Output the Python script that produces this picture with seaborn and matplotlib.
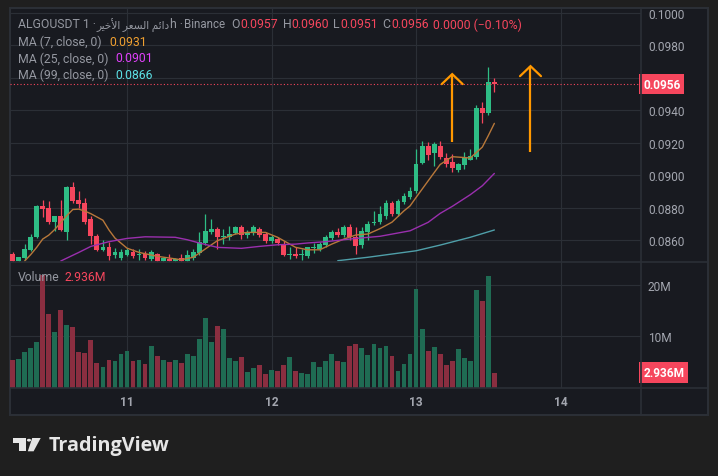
import matplotlib
matplotlib.use("Agg")
import matplotlib.pyplot as plt
import matplotlib.transforms as mtransforms
from matplotlib.patches import Rectangle, Polygon, Circle
from matplotlib.lines import Line2D
import numpy as np
import pandas as pd
import seaborn as sns

# ---------------- data (1h candles, 10th 05:00 -> 13th 13:00) ----------------
opens = [.08514, .08471, .08491, .0854, .0862, .08811, .08797, .08713, .0875, .08651,
         .08928, .08846, .0883, .08729, .08625, .08538, .08556, .08508, .08487, .08508,
         .08528, .08508, .08514, .08483, .08512, .08471, .08483, .08471, .08487, .08471,
         .08487, .0852, .08582, .08651, .08668, .08617, .08617, .08643, .08682, .08633,
         .08643, .08668, .08637, .08596, .08606, .08575, .08508, .08514, .08508, .08503,
         .08549, .08545, .0857, .0861, .08651, .08631, .08678, .0862, .08569, .08647,
         .08702, .08711, .08746, .08828, .08758, .08835, .08866, .08903, .09074, .0918,
         .09135, .09177, .09107, .09078, .09031, .09062, .09094, .09113, .09412, .09383,
         .0957]
highs = [.08526, .08495, .08574, .08637, .08817, .08846, .0884, .0875, .08846, .0893,
         .08959, .08903, .08857, .0875, .0864, .0860, .0859, .0855, .08545, .08549,
         .08545, .08545, .08534, .08538, .0852, .0849, .08514, .0849, .08514, .08538,
         .08545, .08647, .0876, .08729, .0868, .08668, .08688, .08688, .08692, .0866,
         .08692, .0868, .0865, .0863, .08617, .08596, .08557, .08557, .08545, .0856,
         .0858, .0859, .0863, .0866, .08672, .0869, .08698, .08678, .08678, .08719,
         .0878, .08807, .08848, .0884, .0885, .0889, .08924, .0916, .09207, .09201,
         .09201, .09207, .09135, .09129, .09074, .0914, .0916, .09431, .09451, .09664,
         .0960]
lows = [.0846, .0846, .0848, .0853, .0861, .0874, .0870, .08657, .08657, .08602,
        .0883, .0880, .0870, .08575, .0853, .0853, .0848, .0849, .0848, .0850,
        .0849, .0848, .0848, .0847, .0846, .0846, .0846, .0846, .0846, .0846,
        .0848, .0851, .0857, .0864, .08545, .08575, .0860, .0864, .08606, .0861,
        .0863, .0862, .0858, .0858, .0857, .085, .08483, .0849, .0848, .0849,
        .0852, .0853, .0856, .0860, .0862, .0862, .0860, .08514, .08549, .0860,
        .0869, .0870, .0873, .08746, .0875, .0882, .0885, .0889, .0907, .09094,
        .09057, .0910, .0905, .0902, .0902, .09037, .0909, .0910, .09321, .0937,
        .0951]
closes = [.08471, .08495, .08545, .08617, .08811, .08791, .08713, .0875, .08662, .08928,
          .08842, .08822, .08713, .08627, .08538, .08559, .085, .08526, .08528, .08538,
          .08503, .08514, .08491, .08524, .08471, .08487, .08471, .08483, .08471, .08508,
          .08528, .0859, .08657, .08668, .08617, .08627, .08637, .08682, .08633, .08651,
          .08682, .08633, .08596, .08617, .08582, .08508, .08514, .08503, .08514, .08555,
          .08555, .08575, .08617, .08651, .08631, .08678, .08617, .08565, .08657, .08698,
          .08708, .0876, .08828, .0876, .08838, .08873, .08903, .09068, .0918, .09123,
          .09193, .09113, .09071, .09041, .09068, .09111, .09119, .09412, .09382, .09571,
          .0956]
volumes_m = [5.46, 5.65, 7.02, 7.8, 8.97, 21.96, 14.4, 10.9, 15.2, 12.3,
             11.9, 7.02, 6.8, 9.36, 4.87, 4.09, 5.46, 5.26, 6.63, 7.21,
             5.26, 5.46, 4.68, 8.19, 6.24, 5.46, 5.07, 5.46, 4.87, 6.63,
             6.24, 9.55, 13.65, 8.97, 12.1, 11.5, 5.85, 5.26, 6.04, 3.12,
             3.9, 4.48, 2.73, 3.51, 3.31, 4.48, 6.04, 3.31, 2.92, 2.73,
             5.07, 4.09, 5.26, 6.63, 5.26, 5.07, 8.19, 8.58, 7.8, 6.43,
             8.58, 7.8, 8.19, 6.24, 3.31, 4.68, 6.63, 19.3, 11.5, 7.21,
             7.99, 6.63, 4.48, 5.26, 7.6, 5.85, 5.26, 19.1, 16.96, 21.8,
             2.936]

ma7_idx = [2, 3, 4, 5, 6, 7, 9, 10, 11, 12, 13, 15, 16, 17, 19, 21, 24, 28, 30, 32, 34, 37, 39,
           42, 44, 47, 49, 51, 53, 55, 57, 59, 61, 63, 65, 66, 67, 69, 71, 73, 76, 78, 79, 80]
ma7_val = [.08471, .0851, .08555, .08606, .0863, .08665, .0875, .08788, .0879, .08778, .08762,
           .08722, .08662, .08612, .0855, .08524, .085, .08479, .08494, .08545, .08596, .08637,
           .08647, .08647, .08617, .08555, .0854, .0854, .08575, .08606, .08631, .08637, .0867,
           .0871, .0878, .0881, .08862, .08964, .09065, .09113, .09105, .09172, .09243, .09318]
ma25_idx = [8, 11, 13, 16, 19, 22, 27, 29, 31, 34, 38, 41, 44, 47, 49, 52, 55, 57, 61, 66,
            69, 71, 73, 76, 78, 80]
ma25_val = [.08471, .08524, .08561, .0859, .0861, .0862, .08617, .08602, .08582, .08555,
            .08549, .08561, .08571, .08575, .08582, .0859, .08602, .0861, .08623, .08657,
            .08709, .08764, .08807, .08879, .08934, .0901]
ma99_idx = [54, 59, 63, 67, 71, 76, 80]
ma99_val = [.08473, .08494, .08514, .08534, .08569, .08617, .08662]

day_idx = [19, 43, 67, 91]
day_labels = ["11", "12", "13", "14"]
price_ticks = [0.0860, 0.0880, 0.0900, 0.0920, 0.0940, 0.0960, 0.0980, 0.1000]
vol_ticks = [10, 20]
vol_tick_labels = ["10M", "20M"]

arrow_idx = [73, 86]
arrow_low = [0.09205, 0.09142]
arrow_high = [0.09621, 0.09670]

last_price = 0.0956
last_volume = 2.936

# ---------------- style ----------------
W, H = 718, 477
OUTER = "#1f1f1f"
BG = "#181a20"
GRID = "#2b2f36"
UP = "#2ebd85"
DOWN = "#f6465d"
VUP = "#1f6b53"
VDOWN = "#8a2e40"
TXT = "#9598a1"
AXT = "#a3a6af"
FONT = ["Roboto", "DejaVu Sans"]

sns.set_theme(style="dark")
plt.rcParams["font.family"] = FONT
plt.rcParams["axes.unicode_minus"] = False

fig = plt.figure(figsize=(W / 100, H / 100), dpi=100, facecolor=OUTER)


def rect(l, t, r, b):
    return [l / W, 1 - b / H, (r - l) / W, (b - t) / H]


L, R, T, PB, VB, TB, RR = 10, 640.7, 9.3, 262.5, 388.7, 416, 707.7

fig.add_artist(Rectangle((L / W, 1 - TB / H), (RR - L) / W, (TB - T) / H,
                         transform=fig.transFigure, fc=BG, ec=GRID, lw=1.5, zorder=-5))

ax_p = fig.add_axes(rect(L, T, R, PB))
ax_v = fig.add_axes(rect(L, PB, R, VB), sharex=ax_p)
for ax in (ax_p, ax_v):
    ax.set_facecolor("none")
    for s in ax.spines.values():
        s.set_visible(False)
    ax.grid(True, color=GRID, lw=0.8)
    ax.set_axisbelow(True)

idx = np.arange(len(opens))
o = np.array(opens); h = np.array(highs); lo = np.array(lows); c = np.array(closes)
up = c >= o
ccol = np.where(up, UP, DOWN)
vcol = np.where(up, VUP, VDOWN)

# candles
ax_p.vlines(idx, lo, h, colors=ccol, lw=0.9, zorder=3)
body = np.maximum(np.abs(c - o), 0.000018)
ax_p.bar(idx, body, bottom=np.minimum(o, c), width=0.8, color=ccol, lw=0, zorder=4)

# moving averages
sns.lineplot(x=ma7_idx, y=ma7_val, ax=ax_p, color="#b8783a", lw=1.0, sort=False, zorder=5)
sns.lineplot(x=ma25_idx, y=ma25_val, ax=ax_p, color="#9a2fae", lw=1.0, sort=False, zorder=5)
sns.lineplot(x=ma99_idx, y=ma99_val, ax=ax_p, color="#4f9fa9", lw=1.0, sort=False, zorder=5)

ax_p.set_xlim(-0.43, 104.3)
ax_p.set_ylim(0.08468, 0.10026)

# last price dotted line
ax_p.axhline(last_price, color=DOWN, lw=0.8, ls=(0, (1, 2)), zorder=6)

# arrows
xspan = 104.73 / (R - L)
yspan = (0.10026 - 0.08468) / (PB - T)
for ai, alo, ahi in zip(arrow_idx, arrow_low, arrow_high):
    ax_p.plot([ai, ai], [alo, ahi], color="#ff9800", lw=1.6, zorder=7, solid_capstyle="butt")
    ax_p.plot([ai - 10.5 * xspan, ai, ai + 10.5 * xspan],
              [ahi - 10 * yspan, ahi, ahi - 10 * yspan],
              color="#ff9800", lw=1.6, zorder=7, solid_joinstyle="miter")

# price axis
ax_p.yaxis.tick_right()
ax_p.set_yticks(price_ticks)
ax_p.set_yticklabels([f"{v:.4f}" for v in price_ticks])
ax_p.set_xticks(day_idx)
ax_p.tick_params(axis="y", length=0, pad=5.2, labelsize=8.6, labelcolor=AXT)
ax_p.tick_params(axis="x", length=0, labelbottom=False)
ax_p.set_xlabel(""); ax_p.set_ylabel("")

blend_p = mtransforms.blended_transform_factory(ax_p.transAxes, ax_p.transData)
ax_p.text(1.0 + 2.5 / (R - L), last_price, f"{last_price:.4f}", transform=blend_p,
          ha="left", va="center", color="white", fontsize=8.6, fontweight="bold",
          bbox=dict(boxstyle="square,pad=0.32", fc=DOWN, ec="none"), clip_on=False, zorder=10)

# volume
ax_v.bar(idx, volumes_m, width=0.8, color=vcol, lw=0, zorder=3)
ax_v.set_ylim(0, 24.6)
ax_v.yaxis.tick_right()
ax_v.set_yticks(vol_ticks)
ax_v.set_yticklabels(vol_tick_labels)
ax_v.set_xticks(day_idx)
ax_v.set_xticklabels(day_labels)
ax_v.tick_params(axis="y", length=0, pad=5.2, labelsize=8.6, labelcolor=AXT)
ax_v.tick_params(axis="x", length=0, pad=5.0, labelsize=8.6, labelcolor=AXT)
for lab in ax_v.get_xticklabels():
    lab.set_fontweight("bold")
ax_v.set_xlabel(""); ax_v.set_ylabel("")
blend_v = mtransforms.blended_transform_factory(ax_v.transAxes, ax_v.transData)
ax_v.text(1.0 + 2.5 / (R - L), last_volume, f"{last_volume:.3f}M", transform=blend_v,
          ha="left", va="center", color="white", fontsize=8.6, fontweight="bold",
          bbox=dict(boxstyle="square,pad=0.32", fc=DOWN, ec="none"), clip_on=False, zorder=10)

# separators
for (x0, y0, x1, y1) in [(R, T, R, TB), (L, VB, RR, VB), (L, PB, RR, PB)]:
    fig.add_artist(Line2D([x0 / W, x1 / W], [1 - y0 / H, 1 - y1 / H], transform=fig.transFigure,
                          color=GRID, lw=1.2, zorder=8))


# legend texts
def txt(x, y, s, color=TXT, ha="left", size=8.8, **kw):
    fig.text(x / W, 1 - y / H, s, color=color, ha=ha, va="center", fontsize=size,
             family=FONT, **kw)


arabic_visual = "\ufeae\ufef4\ufea7\ufef7\ufe8d \ufeae\ufecc\ufeb4\ufedf\ufe8d \ufee2\ufe8b\ufe8d\ufea9"
txt(18.3, 25, "ALGOUSDT 1 ·")
txt(169.6, 25.5, arabic_visual, ha="right", size=7.6)
txt(169.8, 25, "h ·")
txt(184.0, 25, "Binance", size=8.3)
for lx, lab, vx, val in [(231.7, "O", 240.3, "0.0957"), (282.7, "H", 291.0, "0.0960"),
                         (333.3, "L", 340.5, "0.0951"), (382.7, "C", 391.0, "0.0956")]:
    txt(lx, 25, lab)
    txt(vx, 25, val, color=DOWN)
txt(432.7, 25, "0.0000 (\u22120.10%)", color=DOWN)

txt(18.3, 42, "MA (7, close, 0)")
txt(109.7, 42, "0.0931", color="#f0a030")
txt(18.3, 59, "MA (25, close, 0)")
txt(115.0, 59, "0.0901", color="#e040fb")
txt(18.3, 75.5, "MA (99, close, 0)")
txt(115.7, 75.5, "0.0866", color="#5ce1e6")

txt(18.3, 278, "Volume")
txt(64.7, 278, "2.936M", color=DOWN)

# TradingView logo
LOGO = "#e6e6e6"
def P(x, y):
    return (x / W, 1 - y / H)
fig.add_artist(Polygon([P(12.7, 439), P(26, 439), P(26, 452.3), P(19.3, 452.3), P(19.3, 444),
                        P(12.7, 444)], closed=True, transform=fig.transFigure, fc=LOGO, ec="none"))
fig.add_artist(Circle(P(29.0, 441.2), 2.1 / W, transform=fig.transFigure, fc=LOGO, ec="none"))
fig.add_artist(Polygon([P(32.2, 439), P(40.7, 439), P(33.6, 452.3), P(27.8, 452.3)], closed=True,
                       transform=fig.transFigure, fc=LOGO, ec="none"))
fig.text(48.5 / W, 1 - 446 / H, "TradingView", color=LOGO, ha="left", va="center",
         fontsize=14.2, fontweight="bold", family=["Open Sans", "DejaVu Sans"])

fig.savefig("out.png", dpi=100, facecolor=OUTER)
